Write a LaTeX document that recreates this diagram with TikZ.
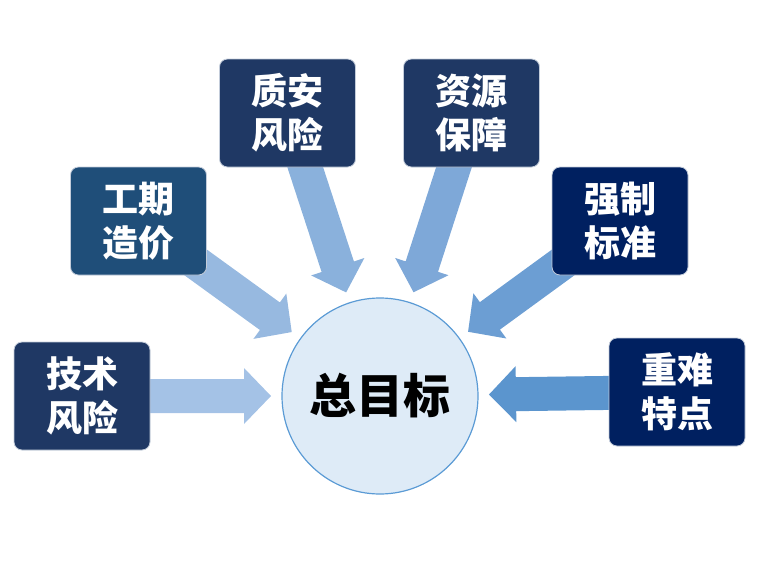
\documentclass[tikz,border=0pt]{standalone}
\usepackage{fontspec}
\usepackage{tikz}
\usetikzlibrary{calc,backgrounds}
\newfontfamily\cjk{Noto Sans CJK SC}
\definecolor{navy}{HTML}{1F3864}
\definecolor{steel}{HTML}{1F4E79}
\definecolor{deepnavy}{HTML}{002060}
\definecolor{boxline}{HTML}{C3CCDA}
\definecolor{goalfill}{HTML}{DEEBF7}
\definecolor{goalline}{HTML}{5B9BD5}
\definecolor{arrA}{HTML}{A4C2E6}
\definecolor{arrB}{HTML}{97B9E0}
\definecolor{arrC}{HTML}{8AB1DC}
\definecolor{arrD}{HTML}{7EA8D8}
\definecolor{arrE}{HTML}{6C9ED3}
\definecolor{arrF}{HTML}{5B95CE}
\newcommand{\blockarrow}[3]{%
  \coordinate (arrtip) at ($(#2.center)!109pt!(#1.center)$);
  \coordinate (arrbase) at ($(arrtip)!27pt!(#1.center)$);
  \fill[#3] ($(#1.center)!17pt!90:(arrtip)$) -- ($(arrbase)!17pt!90:(arrtip)$) -- ($(arrbase)!28pt!90:(arrtip)$) -- (arrtip) -- ($(arrbase)!28pt!-90:(arrtip)$) -- ($(arrbase)!17pt!-90:(arrtip)$) -- ($(#1.center)!17pt!-90:(arrtip)$) -- cycle;
}

\begin{document}
\begin{tikzpicture}[x=1pt, y=-1pt,
  box/.style={draw=boxline, line width=0.8pt, rounded corners=8pt, minimum width=136pt, minimum height=108pt, inner sep=0pt, text=white, align=center, font=\cjk\bfseries\fontsize{36}{44}\selectfont}]
\useasboundingbox (0,0) rectangle (760,570);
\node[box, fill=navy] (tech) at (82,396) {技术\\风险};
\node[box, fill=steel] (cost) at (138.5,221) {工期\\造价};
\node[box, fill=navy] (qual) at (287.5,113) {质安\\风险};
\node[box, fill=navy] (res) at (471.5,113) {资源\\保障};
\node[box, fill=deepnavy] (std) at (620,221) {强制\\标准};
\node[box, fill=deepnavy] (key) at (677,392) {重难\\特点};
\node[circle, draw=goalline, line width=1.2pt, fill=goalfill, minimum size=196pt, font=\cjk\bfseries\fontsize{47}{52}\selectfont] (goal) at (380,396) {总目标};
\begin{scope}[on background layer]
\blockarrow{tech}{goal}{arrA}
\blockarrow{cost}{goal}{arrB}
\blockarrow{qual}{goal}{arrC}
\blockarrow{res}{goal}{arrD}
\blockarrow{std}{goal}{arrE}
\blockarrow{key}{goal}{arrF}
\end{scope}
\end{tikzpicture}
\end{document}
